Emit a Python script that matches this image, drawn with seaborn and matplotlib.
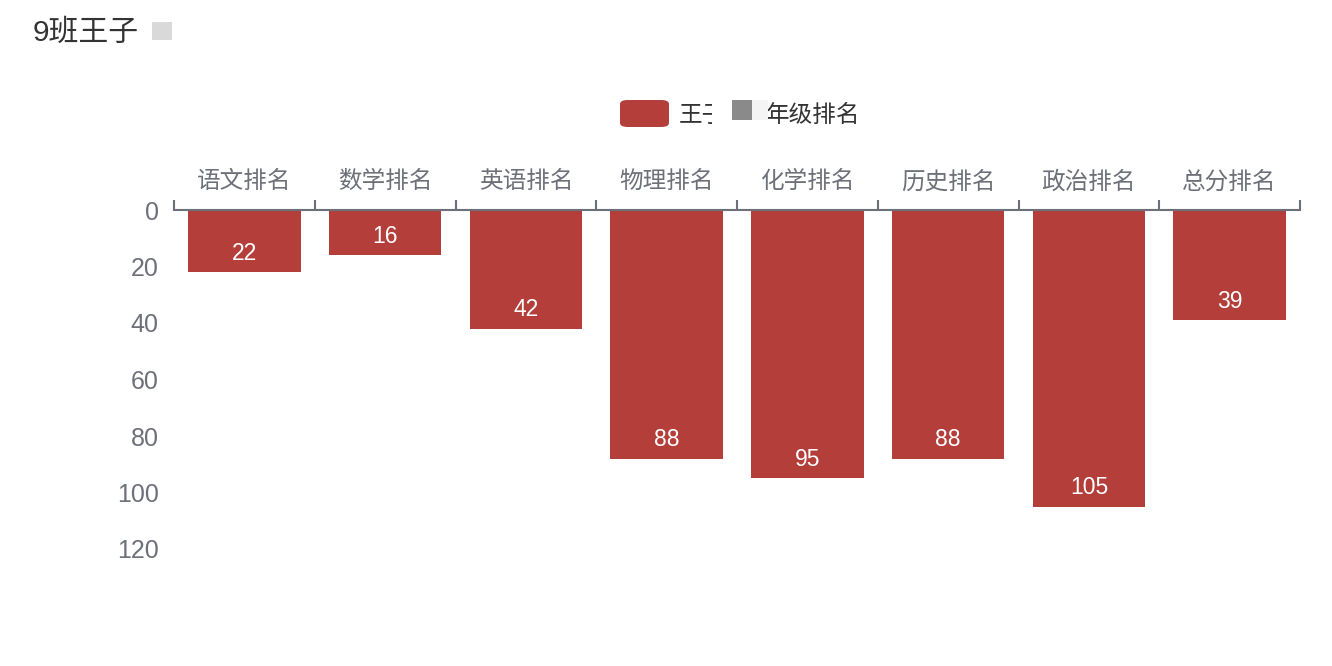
import matplotlib
matplotlib.use("Agg")
import matplotlib.pyplot as plt
import seaborn as sns
import pandas as pd
from matplotlib.patches import FancyBboxPatch, Rectangle

categories = ["语文排名", "数学排名", "英语排名", "物理排名", "化学排名", "历史排名", "政治排名", "总分排名"]
ranks = [22, 16, 42, 88, 95, 88, 105, 39]
yticks = [0, 20, 40, 60, 80, 100, 120]

sns.set_theme(style="white")
plt.rcParams['font.family'] = ['Liberation Sans', 'Noto Sans CJK SC', 'DejaVu Sans']

df = pd.DataFrame({"科目": categories, "排名": ranks})
bar_color = "#b33e3a"
axis_color = "#6e7079"

fig = plt.figure(figsize=(13.32, 6.66), dpi=100)
ax = fig.add_axes([174/1332, 1-549/666, (1300-174)/1332, (549-210)/666])
sns.barplot(data=df, x="科目", y="排名", order=categories, color=bar_color,
            saturation=1, width=0.8, ax=ax, edgecolor="none")
ax.set_ylim(120, 0)
ax.set_xlim(-0.5, len(categories)-0.5)
ax.set_yticks(yticks)
ax.xaxis.tick_top()
ax.set_xlabel("")
ax.set_ylabel("")
for s in ["left", "right", "bottom"]:
    ax.spines[s].set_visible(False)
ax.spines["top"].set_color(axis_color)
ax.spines["top"].set_linewidth(1.5)
ax.tick_params(axis="x", which="both", top=False, labelsize=17, labelcolor=axis_color, pad=6)
ax.tick_params(axis="y", left=False, labelsize=18, labelcolor=axis_color, pad=5)
# category boundary ticks
ax.set_xticks([i - 0.5 for i in range(len(categories)+1)], minor=True)
ax.tick_params(axis="x", which="minor", top=True, direction="out", length=7, width=1.5, color=axis_color)
ax.tick_params(axis="x", which="major", top=False)

for c in ax.containers:
    ax.bar_label(c, labels=[str(v) for v in ranks], label_type="edge", padding=-22,
                 color="white", fontsize=16.5)

# title
fig.text(33/1332, 1-33/666, "9班王子", fontsize=21.5, color="#333333", va="center", ha="left")
fig.patches.append(Rectangle((152/1332, 1-40/666), 20/1332, 18/666, transform=fig.transFigure,
                             facecolor="#d9d9d9", edgecolor="none"))

# legend
fig.patches.append(FancyBboxPatch((620/1332, 1-127/666), 49/1332, 27/666,
                                  boxstyle="round,pad=0,rounding_size=0.006",
                                  transform=fig.transFigure, facecolor=bar_color, edgecolor="none"))
fig.text(679/1332, 1-116/666, "王子", fontsize=17, color="#333333", va="center", ha="left")
fig.text(766/1332, 1-116/666, "年级排名", fontsize=17, color="#333333", va="center", ha="left")
fig.patches.append(Rectangle((712/1332, 1-130/666), 20/1332, 34/666, transform=fig.transFigure,
                             facecolor="white", edgecolor="none", zorder=5))
fig.patches.append(Rectangle((732/1332, 1-120/666), 20/1332, 20/666, transform=fig.transFigure,
                             facecolor="#8a8a8a", edgecolor="none", zorder=6))
fig.patches.append(Rectangle((752/1332, 1-120/666), 16/1332, 20/666, transform=fig.transFigure,
                             facecolor="#f4f4f4", edgecolor="none", zorder=6))

fig.savefig("out.png", dpi=100)
